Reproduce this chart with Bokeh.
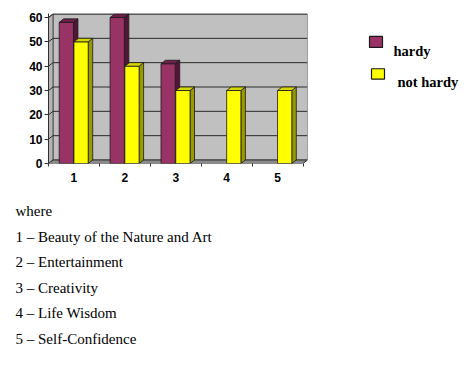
from bokeh.plotting import figure
from bokeh.layouts import column, row
from bokeh.models import FixedTicker, Range1d
from bokeh.core.properties import value
from bokeh.embed import file_html
from bokeh.resources import INLINE

# ---- data ----
categories = [1, 2, 3, 4, 5]
tick_labels = ["1", "2", "3", "4", "5"]
hardy = [58, 60, 41, 0, 0]
not_hardy = [50, 40, 30, 30, 30]
series_names = ["hardy", "not hardy"]
y_ticks = [0, 10, 20, 30, 40, 50, 60]
legend_lines = [
    "where",
    "1 \u2013 Beauty of the Nature and Art",
    "2 \u2013 Entertainment",
    "3 \u2013 Creativity",
    "4 \u2013 Life Wisdom",
    "5 \u2013 Self-Confidence",
]

# ---- styling ----
W, H = 474, 366
TOP_H = 190
MAIN_W = 320
FRAME_W, FRAME_H = 259, 150
DXPX, DYPX = 4.5, 3.5
PX_X = (FRAME_W - DXPX) / len(categories)
YMAX = 60
PX_Y = 146.0 / YMAX
DX = DXPX / PX_X
DY = DYPX / PX_Y
FL, FT = 48, 163 - FRAME_H

x0 = categories[0] - 0.5
x1 = categories[-1] + 0.5


def blank(width, height, xr, yr):
    f = figure(width=width, height=height, x_range=xr, y_range=yr,
               output_backend="svg", toolbar_location=None,
               x_axis_location=None, y_axis_location=None,
               min_border=0)
    f.outline_line_color = None
    f.grid.visible = False
    return f


p = figure(width=MAIN_W, height=TOP_H,
           x_range=Range1d(x0, x1 + DX), y_range=Range1d(0, FRAME_H / PX_Y),
           output_backend="svg", toolbar_location=None,
           min_border_left=FL, min_border_right=MAIN_W - FL - FRAME_W,
           min_border_top=FT, min_border_bottom=TOP_H - FT - FRAME_H)
p.outline_line_color = None
p.grid.visible = False

WALL_TOP = YMAX + DY
# back wall
p.quad(left=[x0 + DX], right=[x1 + DX], bottom=[DY], top=[WALL_TOP],
       fill_color="#c0c0c0", line_color="#505050", line_width=1)
# left wall
p.patch([x0, x0 + DX, x0 + DX, x0], [0, DY, WALL_TOP, YMAX],
        fill_color="#b4b4b4", line_color="#505050", line_width=1)
# floor
p.patch([x0, x1, x1 + DX, x0 + DX], [0, 0, DY, DY],
        fill_color="#8c8c8c", line_color="#303030", line_width=1)
# gridlines on back wall
gy = [t for t in y_ticks if t > 0]
p.segment(x0=[x0 + DX] * len(gy), y0=[t + DY for t in gy],
          x1=[x1 + DX] * len(gy), y1=[t + DY for t in gy],
          line_color="#2a2a2a", line_width=1)
p.segment(x0=[x0] * len(gy), y0=gy, x1=[x0 + DX] * len(gy), y1=[t + DY for t in gy],
          line_color="#2a2a2a", line_width=1)

BW = 0.28
offsets = [-0.29, 0.0]
colors = [("#993366", "#6e2148", "#521537"), ("#ffff00", "#d6d600", "#999900")]

for vals, off, (cf, ct, cs) in zip([hardy, not_hardy], offsets, colors):
    L, R, T = [], [], []
    tx, ty, sx, sy = [], [], [], []
    for c, v in zip(categories, vals):
        if v <= 0:
            continue
        l = c + off
        r = l + BW
        L.append(l); R.append(r); T.append(v)
        tx.append([l, r, r + DX, l + DX]); ty.append([v, v, v + DY, v + DY])
        sx.append([r, r + DX, r + DX, r]); sy.append([0, DY, v + DY, v])
    p.patches(sx, sy, fill_color=cs, line_color="#1a1a1a", line_width=0.8)
    p.quad(left=L, right=R, bottom=[0] * len(L), top=T,
           fill_color=cf, line_color="#1a1a1a", line_width=0.8)
    p.patches(tx, ty, fill_color=ct, line_color="#1a1a1a", line_width=0.8)

# axes
xa = p.xaxis[0]
xa.ticker = FixedTicker(ticks=categories,
                        minor_ticks=[c - 0.5 for c in categories] + [categories[-1] + 0.5])
xa.major_label_overrides = {c: t for c, t in zip(categories, tick_labels)}
xa.axis_line_color = None
xa.major_tick_out = 0
xa.major_tick_in = 0
xa.minor_tick_out = 3
xa.minor_tick_in = 0
xa.minor_tick_line_color = "#303030"
xa.major_label_standoff = 6
xa.major_label_text_font = "Liberation Sans"
xa.major_label_text_font_style = "bold"
xa.major_label_text_font_size = "12px"
xa.major_label_text_color = "black"

ya = p.yaxis[0]
ya.ticker = FixedTicker(ticks=y_ticks, minor_ticks=[])
ya.axis_line_color = "#303030"
ya.major_tick_out = 4
ya.major_tick_in = 0
ya.major_tick_line_color = "#303030"
ya.major_label_standoff = 2
ya.major_label_text_font = "Liberation Sans"
ya.major_label_text_font_style = "bold"
ya.major_label_text_font_size = "12px"
ya.major_label_text_color = "black"

# ---- legend panel (pixel-like coordinates, y downwards) ----
LEG_W = W - MAIN_W
leg = blank(LEG_W, TOP_H, Range1d(0, LEG_W), Range1d(TOP_H, 0))
leg_boxes = [(49, 62, 29, 43), (51, 64, 70, 83)]
leg_text = [(73, 48), (77, 87)]
leg.quad(left=[b[0] for b in leg_boxes], right=[b[1] for b in leg_boxes],
         top=[b[2] for b in leg_boxes], bottom=[b[3] for b in leg_boxes],
         fill_color=[c[0] for c in colors], line_color="#1a1a1a", line_width=1.2)
leg.text(x=[t[0] for t in leg_text], y=[t[1] for t in leg_text], text=series_names,
         text_font=value("Liberation Serif"), text_font_style="bold",
         text_font_size="14.5px", text_baseline="middle", text_color="black")

# ---- explanation panel ----
TXT_H = H - TOP_H
txt = blank(W, TXT_H, Range1d(0, W), Range1d(H, TOP_H))
line_y = [210, 236, 261, 287, 312, 338]
txt.text(x=[15] * len(legend_lines), y=line_y, text=legend_lines,
         text_font=value("Liberation Serif"), text_font_size="15px",
         text_baseline="middle", text_color="black")

layout = column(row(p, leg), txt)
open("out.html", "w").write(file_html(layout, INLINE))
